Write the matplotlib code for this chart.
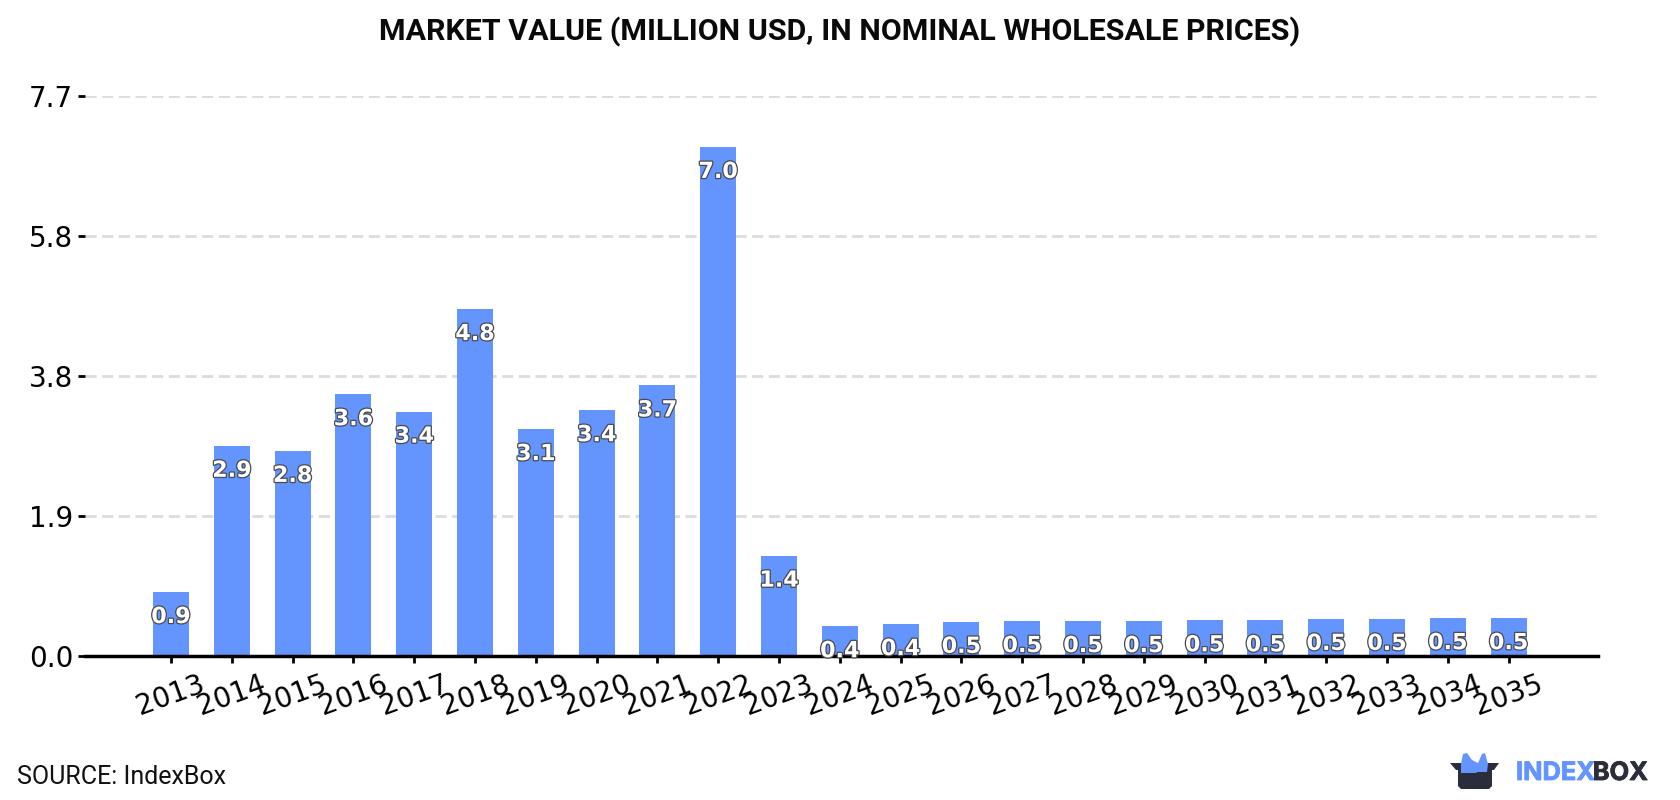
# -*- coding: utf-8 -*-
"""
Market value bars, 2013-2035, with IndexBox footer
"""

import matplotlib
matplotlib.use('Agg')
import matplotlib.pyplot as plt
import matplotlib.patheffects as pe
from matplotlib.patches import Polygon
import numpy as np

years = [2013, 2014, 2015, 2016, 2017, 2018, 2019, 2020, 2021, 2022, 2023, 2024,
         2025, 2026, 2027, 2028, 2029, 2030, 2031, 2032, 2033, 2034, 2035]
values = [0.88, 2.89, 2.82, 3.60, 3.36, 4.77, 3.12, 3.38, 3.72, 7.00, 1.38, 0.41,
          0.44, 0.47, 0.48, 0.48, 0.48, 0.49, 0.49, 0.51, 0.51, 0.52, 0.52]
ytick_values = [0.0, 1.925, 3.85, 5.775, 7.7]
ytick_labels = ['0.0', '1.9', '3.8', '5.8', '7.7']

W, H = 1680, 800
BLUE = '#6495ff'
DARK = '#2b2d3a'

fig = plt.figure(figsize=(W/100, H/100), dpi=100)

# axes box in pixels: left, right, top, bottom
L, R, T, B = 85, 1598, 96, 656
ax = fig.add_axes([L/W, 1-B/H, (R-L)/W, (B-T)/H])

x = np.arange(len(years))
ax.bar(x, values, width=0.592, color=BLUE, zorder=2)

ax.set_xlim(-1.414, 23.47)
ax.set_ylim(0, 7.7)

for s in ['top', 'left', 'right']:
    ax.spines[s].set_visible(False)
ax.spines['bottom'].set_linewidth(2.5)
ax.spines['bottom'].set_zorder(4)

ax.yaxis.grid(True, color='#dcdcdc', linestyle=(0, (4, 2)), linewidth=2)
ax.set_axisbelow(True)
ax.set_yticks(ytick_values)
ax.set_yticklabels(ytick_labels, fontsize=20, family='DejaVu Sans')
ax.tick_params(axis='y', length=5, width=2, pad=3.5)
ax.set_xticks(x)
ax.set_xticklabels(years, fontsize=20, rotation=20, family='DejaVu Sans')
ax.tick_params(axis='x', length=5, width=2, pad=5.5)

# value labels sit just under the top of each bar
for xi, v in zip(x, values):
    ax.annotate('%.1f' % v, (xi, v), xytext=(0, -25), textcoords='offset pixels',
                ha='center', va='center', fontsize=16, fontweight='bold',
                color='white', family='DejaVu Sans', zorder=5, clip_on=False,
                path_effects=[pe.withStroke(linewidth=1.8, foreground='#4a4a4a')])

fig.text(0.5, 1-31.5/H, 'MARKET VALUE (MILLION USD, IN NOMINAL WHOLESALE PRICES)',
         ha='center', va='center', fontsize=21.9, fontweight='bold', family='Roboto',
         color='#0a0a0a')
fig.text(17/W, 1-777/H, 'SOURCE: IndexBox', ha='left', va='center',
         fontsize=18, family='Roboto', color='#111111')

# logo drawn in pixel coordinates
lg = fig.add_axes([0, 0, 1, 1], zorder=10)
lg.set_xlim(0, W)
lg.set_ylim(H, 0)
lg.axis('off')
lg.patch.set_alpha(0)
ears = [(1461, 764), (1463, 754), (1467, 753), (1472, 760), (1478, 763), (1482, 754),
        (1485, 753), (1488, 764), (1487, 772), (1461, 772)]
box = [(1450, 763), (1499, 763), (1494, 770), (1492, 770), (1492, 786), (1489, 789),
       (1461, 789), (1458, 786), (1458, 770), (1456, 770)]
flap = [(1461, 763), (1488, 763), (1476, 773), (1461, 773)]
lg.add_patch(Polygon(box, closed=True, color=DARK, lw=0))
lg.add_patch(Polygon(ears, closed=True, color=BLUE, lw=0))
lg.add_patch(Polygon(flap, closed=True, color=BLUE, lw=0))

t = lg.text(1516, 773.5, 'INDEX', color=BLUE, fontsize=18.3, fontweight='bold',
            family='Inter', ha='left', va='center',
            path_effects=[pe.withStroke(linewidth=0.6, foreground=BLUE)])
fig.canvas.draw()
x1 = t.get_window_extent().x1
lg.text(x1-2, 773.5, 'BOX', color=DARK, fontsize=18.3, fontweight='bold',
        family='Inter', ha='left', va='center',
        path_effects=[pe.withStroke(linewidth=0.6, foreground=DARK)])

fig.savefig('out.png', dpi=100)
